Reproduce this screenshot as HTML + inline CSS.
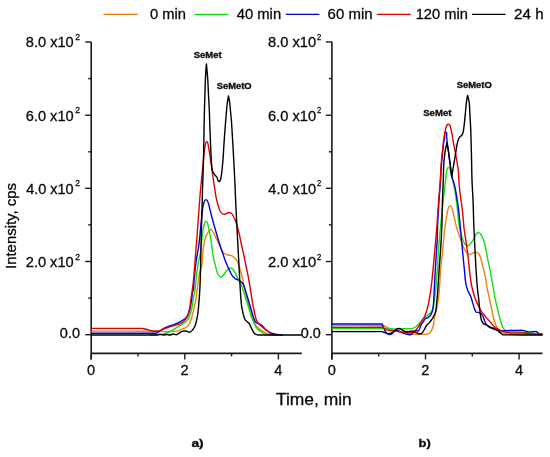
<!DOCTYPE html>
<html><head><meta charset="utf-8"><style>
html,body{margin:0;padding:0;background:#fff;overflow:hidden;}
svg{display:block;}
text{font-family:"Liberation Sans",Arial,sans-serif;fill:#0a0a0a;stroke:#0a0a0a;stroke-width:0.3px;}
</style></head><body>
<svg width="550" height="457" viewBox="0 0 550 457">

<path d="M103.3 14.45H137.7" stroke="#e87a10" stroke-width="1.3"/>
<path d="M194.5 14.45H228.5" stroke="#10dd10" stroke-width="1.3"/>
<path d="M285.8 14.45H319.4" stroke="#0000c0" stroke-width="1.3"/>
<path d="M376.8 14.45H410.8" stroke="#dd0000" stroke-width="1.3"/>
<path d="M472 14.45H505.6" stroke="#000" stroke-width="1.3"/>

<path d="M91.2 41.7 V359.6" stroke="#1a1a1a" stroke-width="1.6" fill="none"/>
<path d="M91.2 353.4 H301.8" stroke="#1a1a1a" stroke-width="1.6" fill="none"/>
<path d="M85.2 334.7 H91.2" stroke="#1a1a1a" stroke-width="1.4"/>
<path d="M88.2 298.1 H91.2" stroke="#1a1a1a" stroke-width="1.4"/>
<path d="M85.2 261.5 H91.2" stroke="#1a1a1a" stroke-width="1.4"/>
<path d="M88.2 224.9 H91.2" stroke="#1a1a1a" stroke-width="1.4"/>
<path d="M85.2 188.3 H91.2" stroke="#1a1a1a" stroke-width="1.4"/>
<path d="M88.2 151.8 H91.2" stroke="#1a1a1a" stroke-width="1.4"/>
<path d="M85.2 115.2 H91.2" stroke="#1a1a1a" stroke-width="1.4"/>
<path d="M88.2 78.6 H91.2" stroke="#1a1a1a" stroke-width="1.4"/>
<path d="M85.2 42.0 H91.2" stroke="#1a1a1a" stroke-width="1.4"/>
<path d="M91.2 353.4 V359.4" stroke="#1a1a1a" stroke-width="1.4"/>
<path d="M138.0 353.4 V356.4" stroke="#1a1a1a" stroke-width="1.4"/>
<path d="M184.8 353.4 V359.4" stroke="#1a1a1a" stroke-width="1.4"/>
<path d="M231.6 353.4 V356.4" stroke="#1a1a1a" stroke-width="1.4"/>
<path d="M278.4 353.4 V359.4" stroke="#1a1a1a" stroke-width="1.4"/>
<text x="25.87" y="47.38" textLength="47.80" lengthAdjust="spacingAndGlyphs" style="font-size:14.6px;stroke-width:0.3px;">8.0 x10</text>
<text x="75.37" y="39.98" textLength="4.76" lengthAdjust="spacingAndGlyphs" style="font-size:9px;stroke-width:0.3px;">2</text>
<text x="25.76" y="120.56" textLength="47.91" lengthAdjust="spacingAndGlyphs" style="font-size:14.6px;stroke-width:0.3px;">6.0 x10</text>
<text x="75.37" y="113.16" textLength="4.76" lengthAdjust="spacingAndGlyphs" style="font-size:9px;stroke-width:0.3px;">2</text>
<text x="26.17" y="193.74" textLength="47.50" lengthAdjust="spacingAndGlyphs" style="font-size:14.6px;stroke-width:0.3px;">4.0 x10</text>
<text x="75.37" y="186.34" textLength="4.76" lengthAdjust="spacingAndGlyphs" style="font-size:9px;stroke-width:0.3px;">2</text>
<text x="25.77" y="266.92" textLength="47.90" lengthAdjust="spacingAndGlyphs" style="font-size:14.6px;stroke-width:0.3px;">2.0 x10</text>
<text x="75.37" y="259.52" textLength="4.76" lengthAdjust="spacingAndGlyphs" style="font-size:9px;stroke-width:0.3px;">2</text>
<text x="59.83" y="337.60" textLength="20.13" lengthAdjust="spacingAndGlyphs" style="font-size:14.6px;stroke-width:0.3px;">0.0</text>
<text x="86.94" y="375.00" textLength="8.12" lengthAdjust="spacingAndGlyphs" style="font-size:14.6px;stroke-width:0.3px;">0</text>
<text x="180.54" y="375.00" textLength="8.12" lengthAdjust="spacingAndGlyphs" style="font-size:14.6px;stroke-width:0.3px;">2</text>
<text x="274.19" y="375.00" textLength="8.12" lengthAdjust="spacingAndGlyphs" style="font-size:14.6px;stroke-width:0.3px;">4</text>
<path d="M331.9 41.7 V359.6" stroke="#1a1a1a" stroke-width="1.6" fill="none"/>
<path d="M331.9 353.4 H542.5" stroke="#1a1a1a" stroke-width="1.6" fill="none"/>
<path d="M325.9 334.7 H331.9" stroke="#1a1a1a" stroke-width="1.4"/>
<path d="M328.9 298.1 H331.9" stroke="#1a1a1a" stroke-width="1.4"/>
<path d="M325.9 261.5 H331.9" stroke="#1a1a1a" stroke-width="1.4"/>
<path d="M328.9 224.9 H331.9" stroke="#1a1a1a" stroke-width="1.4"/>
<path d="M325.9 188.3 H331.9" stroke="#1a1a1a" stroke-width="1.4"/>
<path d="M328.9 151.8 H331.9" stroke="#1a1a1a" stroke-width="1.4"/>
<path d="M325.9 115.2 H331.9" stroke="#1a1a1a" stroke-width="1.4"/>
<path d="M328.9 78.6 H331.9" stroke="#1a1a1a" stroke-width="1.4"/>
<path d="M325.9 42.0 H331.9" stroke="#1a1a1a" stroke-width="1.4"/>
<path d="M331.9 353.4 V359.4" stroke="#1a1a1a" stroke-width="1.4"/>
<path d="M378.7 353.4 V356.4" stroke="#1a1a1a" stroke-width="1.4"/>
<path d="M425.5 353.4 V359.4" stroke="#1a1a1a" stroke-width="1.4"/>
<path d="M472.3 353.4 V356.4" stroke="#1a1a1a" stroke-width="1.4"/>
<path d="M519.1 353.4 V359.4" stroke="#1a1a1a" stroke-width="1.4"/>
<text x="268.06" y="47.38" textLength="48.11" lengthAdjust="spacingAndGlyphs" style="font-size:14.6px;stroke-width:0.3px;">8.0 x10</text>
<text x="317.01" y="39.98" textLength="4.27" lengthAdjust="spacingAndGlyphs" style="font-size:9px;stroke-width:0.3px;">2</text>
<text x="267.95" y="120.56" textLength="48.22" lengthAdjust="spacingAndGlyphs" style="font-size:14.6px;stroke-width:0.3px;">6.0 x10</text>
<text x="317.01" y="113.16" textLength="4.27" lengthAdjust="spacingAndGlyphs" style="font-size:9px;stroke-width:0.3px;">2</text>
<text x="268.37" y="193.74" textLength="47.80" lengthAdjust="spacingAndGlyphs" style="font-size:14.6px;stroke-width:0.3px;">4.0 x10</text>
<text x="317.01" y="186.34" textLength="4.27" lengthAdjust="spacingAndGlyphs" style="font-size:9px;stroke-width:0.3px;">2</text>
<text x="267.96" y="266.92" textLength="48.21" lengthAdjust="spacingAndGlyphs" style="font-size:14.6px;stroke-width:0.3px;">2.0 x10</text>
<text x="317.01" y="259.52" textLength="4.27" lengthAdjust="spacingAndGlyphs" style="font-size:9px;stroke-width:0.3px;">2</text>
<text x="300.64" y="337.60" textLength="20.03" lengthAdjust="spacingAndGlyphs" style="font-size:14.6px;stroke-width:0.3px;">0.0</text>
<text x="327.64" y="375.00" textLength="8.12" lengthAdjust="spacingAndGlyphs" style="font-size:14.6px;stroke-width:0.3px;">0</text>
<text x="421.24" y="375.00" textLength="8.12" lengthAdjust="spacingAndGlyphs" style="font-size:14.6px;stroke-width:0.3px;">2</text>
<text x="514.89" y="375.00" textLength="8.12" lengthAdjust="spacingAndGlyphs" style="font-size:14.6px;stroke-width:0.3px;">4</text>
<text x="149.92" y="19.40" textLength="36.03" lengthAdjust="spacingAndGlyphs" style="font-size:14.8px;stroke-width:0.3px;">0 min</text>
<text x="236.66" y="19.40" textLength="44.50" lengthAdjust="spacingAndGlyphs" style="font-size:14.8px;stroke-width:0.3px;">40 min</text>
<text x="327.64" y="19.40" textLength="44.93" lengthAdjust="spacingAndGlyphs" style="font-size:14.8px;stroke-width:0.3px;">60 min</text>
<text x="415.68" y="19.40" textLength="52.27" lengthAdjust="spacingAndGlyphs" style="font-size:14.8px;stroke-width:0.3px;">120 min</text>
<text x="514.04" y="19.40" textLength="29.55" lengthAdjust="spacingAndGlyphs" style="font-size:14.8px;stroke-width:0.3px;">24 h</text>
<text x="275.91" y="404.60" textLength="75.81" lengthAdjust="spacingAndGlyphs" style="font-size:17px;stroke-width:0.3px;">Time, min</text>
<text x="191.46" y="447.30" textLength="12.24" lengthAdjust="spacingAndGlyphs" style="font-size:11px;font-weight:bold;font-family:"DejaVu Sans",sans-serif;stroke-width:0.55px;">a)</text>
<text x="418.55" y="446.90" textLength="12.22" lengthAdjust="spacingAndGlyphs" style="font-size:11px;font-weight:bold;font-family:"DejaVu Sans",sans-serif;stroke-width:0.55px;">b)</text>
<text x="193.68" y="58.10" textLength="27.95" lengthAdjust="spacingAndGlyphs" style="font-size:8.6px;font-weight:bold;font-family:"DejaVu Sans",sans-serif;stroke-width:0.6px;">SeMet</text>
<text x="216.78" y="88.80" textLength="34.87" lengthAdjust="spacingAndGlyphs" style="font-size:8.6px;font-weight:bold;font-family:"DejaVu Sans",sans-serif;stroke-width:0.6px;">SeMetO</text>
<text x="423.18" y="115.90" textLength="28.25" lengthAdjust="spacingAndGlyphs" style="font-size:8.6px;font-weight:bold;font-family:"DejaVu Sans",sans-serif;stroke-width:0.6px;">SeMet</text>
<text x="456.68" y="87.80" textLength="35.07" lengthAdjust="spacingAndGlyphs" style="font-size:8.6px;font-weight:bold;font-family:"DejaVu Sans",sans-serif;stroke-width:0.6px;">SeMetO</text>
<g transform="rotate(-90)"><text x="-268.96" y="16.40" textLength="85.89" lengthAdjust="spacingAndGlyphs" style="font-size:14.8px;stroke-width:0.3px;">Intensity, cps</text></g>
<path d="M91.20 331.10C110.53 331.13 129.87 331.17 149.20 331.20C150.63 331.13 152.07 331.03 153.50 331.00C155.33 330.96 157.17 330.90 159.00 331.00C160.84 331.10 162.66 331.51 164.50 331.60C166.66 331.71 168.84 331.69 171.00 331.60C172.94 331.52 174.89 331.44 176.80 331.10C177.91 330.90 178.95 330.40 180.00 330.00C180.68 329.74 181.32 329.38 182.00 329.10C183.26 328.58 184.67 328.36 185.80 327.60C187.02 326.79 188.12 325.73 188.90 324.50C189.95 322.85 190.56 320.95 191.20 319.10C191.97 316.87 192.53 314.58 193.10 312.30C193.67 310.02 194.10 307.70 194.60 305.40C195.00 303.60 195.50 301.82 195.80 300.00C196.34 296.68 196.65 293.33 197.10 290.00C197.55 286.66 198.03 283.33 198.50 280.00C198.83 277.67 198.96 275.29 199.50 273.00C200.00 270.88 201.17 268.94 201.60 266.80C202.18 263.91 202.24 260.94 202.50 258.00C202.74 255.34 202.83 252.66 203.10 250.00C203.27 248.33 203.46 246.65 203.80 245.00C204.33 242.38 204.83 239.73 205.70 237.20C206.34 235.34 207.24 233.56 208.30 231.90C208.89 230.97 209.49 229.50 210.60 229.50C211.71 229.50 212.30 230.97 212.90 231.90C213.98 233.56 214.71 235.43 215.60 237.20C216.47 238.93 217.37 240.65 218.20 242.40C219.00 244.08 219.70 245.81 220.50 247.50C221.14 248.85 221.70 250.24 222.50 251.50C223.04 252.36 223.67 253.22 224.50 253.80C225.25 254.32 226.22 254.46 227.10 254.70C228.05 254.96 229.04 255.06 230.00 255.30C230.75 255.49 231.51 255.65 232.20 256.00C232.97 256.39 233.64 256.95 234.30 257.50C234.91 258.02 235.50 258.57 236.00 259.20C236.51 259.85 236.94 260.56 237.30 261.30C237.77 262.27 238.14 263.28 238.50 264.30C239.04 265.85 239.54 267.42 240.00 269.00C240.41 270.39 240.73 271.80 241.10 273.20C241.57 274.97 242.10 276.72 242.50 278.50C243.07 281.05 243.43 283.65 244.00 286.20C244.77 289.65 245.65 293.07 246.50 296.50C247.38 300.07 248.21 303.66 249.20 307.20C249.98 309.99 250.88 312.75 251.80 315.50C252.65 318.02 253.36 320.60 254.50 323.00C255.11 324.30 256.07 325.41 257.00 326.50C257.81 327.45 258.75 328.29 259.70 329.10C260.59 329.86 261.53 330.56 262.50 331.20C263.30 331.73 264.15 332.16 265.00 332.60C265.82 333.03 266.65 333.43 267.50 333.80C268.39 334.19 269.24 334.72 270.20 334.90C271.45 335.13 272.73 334.97 274.00 335.00" stroke="#f08010" stroke-width="1.4" fill="none" stroke-linejoin="round"/>
<path d="M150.00 334.95C152.33 334.95 154.67 334.98 157.00 334.95C158.03 334.93 159.08 334.95 160.10 334.80C161.32 334.63 162.53 334.37 163.70 334.00C165.67 333.37 167.62 332.67 169.50 331.80C170.80 331.20 171.96 330.33 173.20 329.60C174.40 328.89 175.60 328.21 176.80 327.50C178.04 326.77 179.28 326.05 180.50 325.30C181.18 324.88 181.84 324.44 182.50 324.00C183.37 323.41 184.31 322.89 185.10 322.20C186.18 321.25 187.33 320.32 188.10 319.10C189.13 317.47 189.78 315.62 190.40 313.80C191.08 311.81 191.60 309.76 192.00 307.70C192.50 305.16 192.67 302.56 193.10 300.00C193.67 296.65 194.54 293.36 195.00 290.00C195.68 285.02 195.88 279.99 196.50 275.00C197.04 270.65 197.74 266.32 198.50 262.00C198.91 259.65 199.49 257.33 200.00 255.00C200.36 253.33 200.90 251.69 201.10 250.00C201.50 246.62 201.47 243.19 201.80 239.80C202.14 236.29 202.52 232.78 203.10 229.30C203.39 227.54 203.77 225.77 204.40 224.10C204.78 223.08 205.01 221.30 206.10 221.30C207.17 221.30 207.33 223.09 207.70 224.10C208.31 225.78 208.63 227.55 209.00 229.30C209.73 232.79 210.44 236.28 211.00 239.80C211.54 243.18 211.83 246.60 212.30 250.00C212.67 252.67 213.00 255.35 213.50 258.00C213.90 260.12 214.48 262.21 215.00 264.30C215.48 266.21 215.91 268.13 216.50 270.00C216.98 271.53 217.38 273.13 218.20 274.50C218.81 275.51 219.60 276.57 220.70 277.00C221.31 277.24 221.98 276.60 222.50 276.20C223.08 275.75 223.48 275.10 223.90 274.50C224.58 273.53 225.09 272.45 225.80 271.50C226.36 270.74 227.00 270.04 227.70 269.40C228.18 268.96 228.70 268.54 229.30 268.30C229.80 268.10 230.37 268.01 230.90 268.10C231.41 268.19 231.88 268.49 232.30 268.80C232.76 269.13 233.18 269.53 233.50 270.00C234.15 270.95 234.65 271.99 235.20 273.00C235.65 273.82 236.11 274.65 236.50 275.50C237.21 277.05 237.70 278.70 238.50 280.20C239.04 281.21 240.02 281.96 240.50 283.00C241.53 285.25 242.21 287.65 243.00 290.00C243.95 292.82 244.78 295.67 245.70 298.50C246.62 301.34 247.64 304.14 248.50 307.00C249.40 309.98 250.02 313.05 251.00 316.00C251.69 318.06 252.59 320.03 253.50 322.00C254.33 323.80 255.06 325.68 256.20 327.30C257.15 328.65 258.46 329.71 259.70 330.80C260.56 331.55 261.54 332.17 262.50 332.80C263.31 333.34 264.08 333.98 265.00 334.30C266.12 334.69 267.32 334.78 268.50 334.90C269.66 335.02 270.83 334.97 272.00 335.00" stroke="#10e010" stroke-width="1.4" fill="none" stroke-linejoin="round"/>
<path d="M91.20 333.20C112.90 333.20 134.60 333.20 156.30 333.20C157.07 332.73 157.85 332.29 158.60 331.80C159.85 330.99 161.02 330.06 162.30 329.30C163.46 328.62 164.68 328.06 165.90 327.50C167.08 326.96 168.28 326.44 169.50 326.00C170.71 325.57 171.98 325.32 173.20 324.90C174.42 324.48 175.63 324.03 176.80 323.50C178.06 322.93 179.29 322.28 180.50 321.60C181.36 321.11 182.15 320.51 183.00 320.00C183.69 319.58 184.53 319.37 185.10 318.80C186.13 317.77 187.03 316.59 187.70 315.30C188.57 313.63 189.17 311.81 189.70 310.00C190.21 308.24 190.46 306.40 190.80 304.60C191.09 303.07 191.39 301.54 191.60 300.00C191.96 297.34 192.02 294.64 192.50 292.00C192.63 291.28 193.10 290.67 193.40 290.00C193.80 285.00 194.12 279.99 194.60 275.00C195.08 269.99 195.60 264.98 196.30 260.00C196.77 256.65 197.55 253.34 198.10 250.00C198.52 247.47 198.92 244.94 199.20 242.40C199.92 235.88 200.44 229.33 201.10 222.80C201.54 218.43 201.90 214.05 202.50 209.70C202.80 207.48 203.07 205.22 203.80 203.10C204.25 201.80 204.62 199.60 206.00 199.60C207.40 199.60 207.81 201.79 208.30 203.10C209.26 205.64 209.63 208.37 210.30 211.00C210.96 213.60 211.60 216.21 212.30 218.80C213.13 221.88 214.03 224.93 214.90 228.00C215.77 231.07 216.59 234.15 217.50 237.20C218.55 240.71 219.66 244.21 220.80 247.70C221.49 249.81 222.28 251.90 223.00 254.00C223.74 256.16 224.42 258.35 225.20 260.50C225.82 262.19 226.50 263.85 227.20 265.50C227.76 266.82 228.37 268.11 229.00 269.40C230.04 271.51 230.90 273.73 232.20 275.70C232.93 276.80 233.94 277.72 235.00 278.50C235.73 279.04 236.68 279.21 237.50 279.60C238.28 279.97 239.08 280.32 239.80 280.80C240.65 281.36 241.56 281.91 242.20 282.70C242.99 283.67 243.54 284.84 244.00 286.00C244.71 287.78 245.13 289.67 245.70 291.50C246.63 294.50 247.59 297.49 248.50 300.50C249.36 303.33 250.17 306.17 251.00 309.00C251.73 311.50 252.35 314.04 253.20 316.50C253.82 318.31 254.31 320.23 255.40 321.80C255.98 322.64 257.10 322.92 258.00 323.40C258.97 323.92 260.08 324.20 261.00 324.80C261.93 325.41 262.74 326.19 263.50 327.00C264.09 327.63 264.39 328.49 265.00 329.10C265.74 329.84 266.63 330.42 267.50 331.00C268.37 331.58 269.23 332.20 270.20 332.60C271.92 333.31 273.70 333.83 275.50 334.30C276.65 334.60 277.82 334.79 279.00 334.90C280.33 335.02 281.67 334.97 283.00 335.00" stroke="#0000dd" stroke-width="1.4" fill="none" stroke-linejoin="round"/>
<path d="M91.20 328.40C108.33 328.40 125.47 328.40 142.60 328.40C143.70 328.67 144.80 328.92 145.90 329.20C147.00 329.48 148.10 329.79 149.20 330.10C150.47 330.46 151.69 331.01 153.00 331.20C154.25 331.38 155.53 331.26 156.80 331.20C157.54 331.16 158.29 331.11 159.00 330.90C160.14 330.57 161.20 330.03 162.30 329.60C163.50 329.13 164.69 328.65 165.90 328.20C167.09 327.75 168.28 327.28 169.50 326.90C170.72 326.52 171.97 326.24 173.20 325.90C174.40 325.57 175.61 325.27 176.80 324.90C178.05 324.51 179.34 324.20 180.50 323.60C181.43 323.12 182.18 322.36 183.00 321.70C183.72 321.12 184.50 320.60 185.10 319.90C185.98 318.86 186.84 317.75 187.40 316.50C188.12 314.91 188.48 313.19 188.90 311.50C189.35 309.69 189.70 307.84 190.00 306.00C190.33 304.01 190.51 302.00 190.80 300.00C191.28 296.66 191.85 293.34 192.30 290.00C192.75 286.67 193.17 283.34 193.50 280.00C194.00 275.01 194.40 270.00 194.80 265.00C195.20 260.00 195.50 255.00 195.90 250.00C196.10 247.46 196.40 244.94 196.60 242.40C197.27 233.67 197.85 224.93 198.50 216.20C199.15 207.47 199.74 198.73 200.50 190.00C201.08 183.33 201.85 176.67 202.50 170.00C203.08 164.00 203.52 157.99 204.20 152.00C204.49 149.48 204.77 146.95 205.40 144.50C205.65 143.52 205.80 141.62 206.80 141.80C207.95 142.00 207.94 143.86 208.20 145.00C208.95 148.29 209.28 151.66 209.80 155.00C210.42 159.00 211.02 163.00 211.60 167.00C212.22 171.33 212.78 175.67 213.40 180.00C213.88 183.34 214.38 186.67 214.90 190.00C215.31 192.64 215.65 195.29 216.20 197.90C216.75 200.53 217.43 203.13 218.20 205.70C218.74 207.50 219.19 209.36 220.10 211.00C220.75 212.18 221.64 213.32 222.80 214.00C223.49 214.41 224.42 214.19 225.20 214.00C226.46 213.68 227.50 212.60 228.80 212.50C229.76 212.42 230.77 212.88 231.50 213.50C232.42 214.28 232.93 215.44 233.50 216.50C234.27 217.95 234.94 219.46 235.50 221.00C236.21 222.93 236.74 224.92 237.30 226.90C238.07 229.59 238.86 232.28 239.50 235.00C240.20 237.98 240.66 241.01 241.30 244.00C242.02 247.38 242.88 250.72 243.60 254.10C244.38 257.72 245.06 261.37 245.80 265.00C246.66 269.17 247.61 273.32 248.40 277.50C249.18 281.65 249.82 285.83 250.50 290.00C251.25 294.56 251.89 299.15 252.70 303.70C253.22 306.65 253.85 309.58 254.50 312.50C255.02 314.84 255.43 317.23 256.20 319.50C256.60 320.69 257.30 321.76 258.00 322.80C258.47 323.51 259.10 324.10 259.70 324.70C260.60 325.60 261.52 326.49 262.50 327.30C263.29 327.96 264.18 328.48 265.00 329.10C265.95 329.82 266.88 330.55 267.80 331.30C268.61 331.95 269.31 332.76 270.20 333.30C271.30 333.97 272.45 334.63 273.70 334.90C275.10 335.21 276.57 334.97 278.00 335.00" stroke="#e00000" stroke-width="1.4" fill="none" stroke-linejoin="round"/>
<path d="M91.20 335.00C113.13 334.98 135.07 334.97 157.00 334.95C158.03 334.70 159.04 334.19 160.10 334.20C161.23 334.21 162.27 334.95 163.40 335.00C164.48 335.05 165.52 334.50 166.60 334.50C167.71 334.50 168.79 335.08 169.90 335.00C171.05 334.91 172.05 334.05 173.20 334.00C174.23 333.95 175.18 334.85 176.20 334.70C177.32 334.53 178.21 333.66 179.20 333.10C180.15 332.56 180.96 331.73 182.00 331.40C183.21 331.01 184.53 330.87 185.80 331.00C187.15 331.14 188.34 332.29 189.70 332.20C190.63 332.14 191.39 331.31 192.00 330.60C193.19 329.21 194.28 327.68 195.00 326.00C195.94 323.81 196.40 321.43 196.90 319.10C197.44 316.59 197.78 314.05 198.10 311.50C198.42 308.94 198.58 306.37 198.80 303.80C199.02 301.20 199.22 298.60 199.40 296.00C199.59 293.33 199.77 290.67 199.90 288.00C200.11 283.67 200.29 279.34 200.40 275.00C200.62 266.67 200.71 258.33 200.90 250.00C201.05 243.33 201.22 236.67 201.40 230.00C201.58 223.33 201.82 216.67 202.00 210.00C202.18 203.33 202.30 196.67 202.50 190.00C202.80 180.00 203.25 170.00 203.50 160.00C203.75 150.00 203.80 140.00 204.00 130.00C204.17 121.67 204.37 113.33 204.60 105.00C204.81 97.33 205.02 89.66 205.30 82.00C205.45 78.00 205.66 74.00 205.90 70.00C206.02 68.00 206.23 66.00 206.40 64.00C206.60 66.00 206.82 68.00 207.00 70.00C207.29 73.33 207.60 76.66 207.80 80.00C208.10 85.00 208.25 90.00 208.50 95.00C208.75 100.00 209.08 105.00 209.30 110.00C209.52 115.00 209.61 120.00 209.80 125.00C210.05 131.67 210.31 138.33 210.60 145.00C210.81 150.00 210.95 155.01 211.30 160.00C211.55 163.68 211.59 167.41 212.40 171.00C212.71 172.37 213.77 173.47 214.60 174.60C215.24 175.48 216.24 176.07 216.80 177.00C217.65 178.40 217.43 180.60 218.80 181.50C219.55 181.99 220.33 180.36 220.60 179.50C221.36 177.09 221.47 174.51 221.80 172.00C222.10 169.67 222.28 167.33 222.50 165.00C222.75 162.33 223.01 159.67 223.20 157.00C223.41 154.00 223.51 151.00 223.70 148.00C223.98 143.67 224.28 139.33 224.60 135.00C224.92 130.67 225.25 126.33 225.60 122.00C225.92 118.00 226.24 114.00 226.60 110.00C226.84 107.33 227.04 104.66 227.40 102.00C227.67 99.99 228.13 98.00 228.50 96.00C228.87 98.00 229.33 99.99 229.60 102.00C229.96 104.66 230.15 107.33 230.40 110.00C230.78 114.00 231.20 117.99 231.50 122.00C231.83 126.33 232.04 130.67 232.30 135.00C232.60 140.00 232.92 145.00 233.20 150.00C233.48 155.00 233.74 160.00 234.00 165.00C234.34 171.67 234.70 178.33 235.00 185.00C235.23 190.00 235.37 195.00 235.60 200.00C235.90 206.67 236.27 213.33 236.60 220.00C236.93 226.67 237.25 233.33 237.60 240.00C237.95 246.67 238.34 253.33 238.70 260.00C239.01 265.83 239.28 271.67 239.60 277.50C239.88 282.67 240.14 287.84 240.50 293.00C240.80 297.34 241.06 301.68 241.60 306.00C241.90 308.36 242.42 310.69 243.00 313.00C243.55 315.20 243.99 317.47 245.00 319.50C245.53 320.55 246.65 321.19 247.50 322.00C248.15 322.62 249.02 323.04 249.50 323.80C250.31 325.09 250.61 326.64 251.30 328.00C252.21 329.78 252.98 331.70 254.30 333.20C255.05 334.05 256.22 334.46 257.30 334.80C258.16 335.07 259.10 334.93 260.00 335.00C273.93 335.00 287.87 335.00 301.80 335.00" stroke="#000000" stroke-width="1.4" fill="none" stroke-linejoin="round"/>
<path d="M331.90 325.60C349.10 325.57 366.30 325.53 383.50 325.50C384.40 325.93 385.30 326.36 386.20 326.80C387.40 327.39 388.57 328.06 389.80 328.60C391.01 329.13 392.27 329.53 393.50 330.00C394.70 330.46 395.87 331.01 397.10 331.40C398.28 331.78 399.49 332.03 400.70 332.30C402.23 332.63 403.76 332.92 405.30 333.20C407.10 333.52 408.88 333.93 410.70 334.10C412.53 334.27 414.37 334.17 416.20 334.20C418.00 334.23 419.80 334.30 421.60 334.30C423.10 334.30 424.62 334.47 426.10 334.20C427.43 333.96 428.99 333.79 429.90 332.80C431.44 331.12 432.34 328.88 433.00 326.70C433.89 323.72 433.87 320.54 434.50 317.50C435.14 314.40 436.22 311.41 436.80 308.30C437.75 303.23 438.59 298.13 439.10 293.00C439.86 285.35 439.95 277.66 440.60 270.00C441.25 262.32 442.23 254.67 443.00 247.00C443.57 241.34 443.95 235.65 444.60 230.00C445.05 226.08 445.67 222.19 446.30 218.30C446.77 215.39 447.04 212.42 447.90 209.60C448.32 208.23 448.67 205.90 450.10 205.90C451.53 205.90 451.82 208.25 452.30 209.60C453.30 212.42 453.80 215.39 454.50 218.30C455.20 221.19 455.71 224.13 456.50 227.00C457.34 230.04 458.38 233.02 459.40 236.00C460.28 238.55 461.22 241.08 462.20 243.60C463.06 245.82 463.71 248.14 464.90 250.20C465.74 251.65 466.80 253.07 468.20 254.00C468.95 254.50 470.02 254.40 470.90 254.20C471.83 253.99 472.51 253.16 473.40 252.80C474.26 252.45 475.18 251.97 476.10 252.10C477.02 252.23 477.87 252.82 478.50 253.50C479.28 254.34 479.83 255.41 480.20 256.50C481.07 259.07 481.53 261.77 482.20 264.40C483.23 268.47 484.45 272.49 485.30 276.60C486.08 280.37 486.40 284.22 487.10 288.00C487.63 290.89 488.37 293.73 489.00 296.60C489.74 300.00 490.47 303.40 491.20 306.80C491.93 310.20 492.57 313.62 493.40 317.00C494.00 319.46 494.58 321.94 495.50 324.30C496.29 326.33 497.10 328.43 498.50 330.10C499.61 331.42 501.20 332.35 502.80 333.00C504.63 333.74 506.67 333.80 508.60 334.20C519.90 334.30 531.20 334.40 542.50 334.50" stroke="#f08010" stroke-width="1.4" fill="none" stroke-linejoin="round"/>
<path d="M331.90 328.60C348.63 328.57 365.37 328.53 382.10 328.50C383.47 328.40 384.83 328.12 386.20 328.20C387.72 328.29 389.18 328.88 390.70 329.00C392.53 329.15 394.37 329.03 396.20 329.00C398.00 328.97 399.80 328.83 401.60 328.80C403.43 328.77 405.27 328.87 407.10 328.80C408.90 328.73 410.75 328.84 412.50 328.40C413.84 328.06 415.10 327.35 416.20 326.50C417.47 325.52 418.43 324.19 419.50 323.00C420.53 321.86 421.46 320.63 422.50 319.50C423.46 318.46 424.40 317.39 425.50 316.50C426.88 315.38 428.70 314.81 429.90 313.50C431.26 312.01 432.49 310.25 433.00 308.30C434.31 303.31 434.72 298.13 435.30 293.00C436.16 285.35 436.73 277.67 437.30 270.00C437.80 263.34 438.03 256.66 438.50 250.00C438.83 245.33 439.28 240.67 439.70 236.00C440.12 231.33 440.53 226.66 441.00 222.00C441.47 217.33 442.02 212.67 442.50 208.00C442.95 203.67 443.32 199.33 443.80 195.00C444.25 190.99 444.82 187.00 445.30 183.00C445.68 179.84 445.75 176.62 446.40 173.50C446.82 171.46 446.41 167.69 448.50 167.60C450.57 167.51 450.35 171.33 451.00 173.30C451.82 175.78 452.32 178.35 452.90 180.90C453.65 184.22 454.45 187.54 455.00 190.90C455.89 196.38 456.54 201.89 457.20 207.40C457.78 212.26 458.10 217.14 458.70 222.00C459.03 224.68 459.45 227.35 460.00 230.00C460.42 232.03 460.96 234.03 461.60 236.00C462.39 238.44 463.05 240.96 464.30 243.20C464.92 244.31 465.86 245.51 467.10 245.80C468.07 246.03 469.06 245.17 469.80 244.50C470.94 243.46 471.75 242.09 472.60 240.80C473.39 239.59 474.00 238.26 474.70 237.00C475.30 235.93 475.71 234.74 476.50 233.80C476.98 233.23 477.68 232.38 478.40 232.60C479.71 232.99 480.81 234.12 481.50 235.30C482.89 237.68 483.79 240.34 484.50 243.00C485.83 248.03 486.57 253.20 487.60 258.30C488.63 263.40 489.72 268.49 490.70 273.60C491.62 278.39 492.44 283.20 493.30 288.00C493.81 290.86 494.24 293.74 494.80 296.60C495.47 300.01 496.21 303.41 497.00 306.80C497.91 310.71 498.80 314.64 499.90 318.50C500.74 321.44 501.57 324.40 502.80 327.20C503.29 328.31 504.03 329.38 505.00 330.10C506.03 330.87 507.33 331.30 508.60 331.50C511.01 331.88 513.47 331.67 515.90 331.80C518.34 331.93 520.77 332.10 523.20 332.30C525.64 332.50 528.07 332.76 530.50 333.00C534.50 333.39 538.50 333.80 542.50 334.20" stroke="#10e010" stroke-width="1.4" fill="none" stroke-linejoin="round"/>
<path d="M331.90 324.00C348.63 324.00 365.37 324.00 382.10 324.00C382.87 325.83 383.53 327.71 384.40 329.50C385.03 330.79 385.59 332.19 386.60 333.20C387.33 333.93 388.37 334.43 389.40 334.50C390.35 334.57 391.29 334.10 392.10 333.60C393.00 333.04 393.50 331.96 394.40 331.40C395.21 330.90 396.15 330.50 397.10 330.50C398.05 330.50 398.94 331.01 399.80 331.40C400.91 331.91 401.87 332.72 403.00 333.20C404.02 333.63 405.13 333.83 406.20 334.10C407.26 334.36 408.31 334.80 409.40 334.80C410.17 334.80 410.99 334.56 411.60 334.10C412.54 333.39 412.97 332.13 413.90 331.40C414.55 330.89 415.38 330.61 416.20 330.50C416.97 330.40 417.96 331.35 418.50 330.80C419.75 329.52 419.86 327.48 420.70 325.90C421.53 324.34 422.56 322.89 423.50 321.40C424.09 320.46 424.45 319.32 425.30 318.60C426.03 317.98 427.19 318.11 428.00 317.60C429.02 316.96 430.13 316.26 430.70 315.20C431.85 313.06 432.69 310.71 433.00 308.30C433.97 300.68 434.04 292.97 434.50 285.30C434.81 280.20 435.01 275.10 435.30 270.00C435.64 264.00 436.02 258.00 436.40 252.00C436.65 248.00 437.02 244.00 437.20 240.00C437.42 235.34 437.39 230.66 437.60 226.00C437.96 218.00 438.38 209.99 438.90 202.00C439.38 194.66 440.10 187.34 440.60 180.00C440.96 174.67 441.07 169.32 441.50 164.00C442.01 157.66 442.67 151.32 443.40 145.00C443.71 142.32 444.10 139.65 444.60 137.00C444.90 135.41 444.18 132.30 445.80 132.30C447.39 132.30 446.38 135.43 446.60 137.00C446.88 138.99 447.04 141.00 447.30 143.00C447.64 145.67 448.04 148.33 448.40 151.00C448.81 154.00 449.20 157.00 449.60 160.00C450.00 163.00 450.39 166.00 450.80 169.00C451.16 171.67 451.30 174.37 451.90 177.00C452.38 179.10 453.46 181.02 454.00 183.10C454.86 186.40 455.51 189.75 456.10 193.10C456.94 197.85 457.69 202.62 458.30 207.40C458.99 212.85 459.47 218.33 460.00 223.80C460.57 229.66 461.05 235.54 461.60 241.40C462.11 246.87 462.66 252.33 463.20 257.80C463.60 261.87 463.98 265.94 464.40 270.00C464.88 274.67 465.12 279.37 465.90 284.00C466.29 286.33 467.04 288.60 467.90 290.80C468.68 292.81 470.02 294.59 470.80 296.60C471.72 298.97 472.20 301.49 473.00 303.90C473.90 306.59 474.20 309.63 475.90 311.90C476.63 312.88 478.43 312.01 479.50 312.60C480.72 313.27 481.80 314.30 482.50 315.50C483.81 317.77 484.18 320.48 485.40 322.80C486.13 324.19 487.08 325.52 488.30 326.50C489.54 327.50 491.13 327.99 492.60 328.60C494.03 329.19 495.49 329.77 497.00 330.10C498.90 330.51 500.85 330.75 502.80 330.80C504.74 330.85 506.66 330.46 508.60 330.40C511.03 330.33 513.47 330.40 515.90 330.40C518.33 330.40 520.78 330.11 523.20 330.40C524.70 330.58 526.01 331.56 527.50 331.80C528.95 332.03 530.43 331.85 531.90 331.80C533.37 331.75 534.88 331.13 536.30 331.50C537.47 331.81 538.09 333.22 539.20 333.70C540.22 334.14 541.40 334.03 542.50 334.20" stroke="#0000dd" stroke-width="1.4" fill="none" stroke-linejoin="round"/>
<path d="M331.90 327.40C348.63 327.37 365.37 327.33 382.10 327.30C383.17 327.90 384.18 328.61 385.30 329.10C386.46 329.61 387.66 330.04 388.90 330.30C390.08 330.55 391.30 330.50 392.50 330.60C393.73 330.70 394.98 330.70 396.20 330.90C397.42 331.10 398.59 331.57 399.80 331.80C401.02 332.03 402.26 332.16 403.50 332.30C405.00 332.46 406.50 332.64 408.00 332.70C409.20 332.74 410.42 332.84 411.60 332.60C412.60 332.40 413.62 332.05 414.40 331.40C415.80 330.24 416.94 328.78 418.00 327.30C419.35 325.43 420.40 323.37 421.60 321.40C422.53 319.87 423.59 318.40 424.40 316.80C425.13 315.36 425.68 313.83 426.20 312.30C426.71 310.79 427.12 309.25 427.50 307.70C428.08 305.35 428.68 302.99 429.10 300.60C429.98 295.52 430.75 290.42 431.40 285.30C432.05 280.21 432.51 275.10 433.00 270.00C433.71 262.67 434.35 255.33 435.00 248.00C435.68 240.33 436.40 232.67 437.00 225.00C437.60 217.30 438.04 209.60 438.60 201.90C439.14 194.60 439.80 187.30 440.30 180.00C440.67 174.67 440.77 169.32 441.20 164.00C441.73 157.42 442.40 150.85 443.20 144.30C443.73 139.92 444.13 135.49 445.20 131.20C445.81 128.74 445.73 124.79 448.20 124.20C450.25 123.71 450.55 127.77 451.10 129.80C452.40 134.54 452.79 139.47 453.70 144.30C454.53 148.71 455.54 153.08 456.30 157.50C457.07 161.98 457.82 166.48 458.30 171.00C458.79 175.65 458.80 180.34 459.20 185.00C459.53 188.81 460.02 192.61 460.50 196.40C461.19 201.87 462.09 207.32 462.70 212.80C463.26 217.85 463.42 222.95 464.00 228.00C464.52 232.49 465.37 236.93 466.00 241.40C466.77 246.86 467.54 252.32 468.20 257.80C468.77 262.53 469.13 267.27 469.70 272.00C470.23 276.34 470.68 280.70 471.50 285.00C472.21 288.72 473.16 292.39 474.30 296.00C475.13 298.64 476.28 301.17 477.40 303.70C478.35 305.84 479.28 308.00 480.50 310.00C481.69 311.95 483.16 313.72 484.60 315.50C486.23 317.52 488.00 319.43 489.70 321.40C491.17 323.10 492.44 324.99 494.10 326.50C495.40 327.68 496.96 328.55 498.50 329.40C499.87 330.16 501.31 330.81 502.80 331.30C504.69 331.92 506.63 332.44 508.60 332.70C511.02 333.01 513.47 332.95 515.90 333.00C518.33 333.05 520.77 332.88 523.20 333.00C525.64 333.12 528.06 333.51 530.50 333.70C534.50 334.01 538.50 334.23 542.50 334.50" stroke="#e00000" stroke-width="1.4" fill="none" stroke-linejoin="round"/>
<path d="M331.90 331.60C348.63 331.60 365.37 331.60 382.10 331.60C383.00 331.97 383.88 332.39 384.80 332.70C385.85 333.06 386.90 333.51 388.00 333.60C389.07 333.68 390.19 333.58 391.20 333.20C392.21 332.82 393.04 332.05 393.90 331.40C394.84 330.69 395.58 329.69 396.60 329.10C397.29 328.70 398.11 328.44 398.90 328.50C399.86 328.58 400.75 329.05 401.60 329.50C402.60 330.03 403.36 330.96 404.40 331.40C405.24 331.75 406.19 331.80 407.10 331.80C408.01 331.80 408.90 331.50 409.80 331.40C410.70 331.30 411.61 331.07 412.50 331.20C413.48 331.34 414.38 331.83 415.30 332.20C416.21 332.57 417.06 333.12 418.00 333.40C418.87 333.66 419.81 333.98 420.70 333.80C421.43 333.65 422.03 333.07 422.50 332.50C423.36 331.44 423.92 330.18 424.60 329.00C425.26 327.85 425.74 326.59 426.50 325.50C427.02 324.77 427.80 324.27 428.40 323.60C429.30 322.60 430.19 321.58 431.00 320.50C431.72 319.54 432.40 318.54 433.00 317.50C433.74 316.21 434.46 314.89 435.00 313.50C435.46 312.31 435.67 311.03 436.00 309.80C436.53 304.20 437.16 298.61 437.60 293.00C438.20 285.34 438.57 277.66 439.10 270.00C439.63 262.30 440.32 254.61 440.80 246.90C441.25 239.60 441.64 232.30 441.90 225.00C442.17 217.30 442.16 209.60 442.40 201.90C442.63 194.60 443.03 187.30 443.30 180.00C443.50 174.67 443.45 169.32 443.80 164.00C444.08 159.65 444.59 155.32 445.20 151.00C445.59 148.24 446.27 145.53 446.80 142.80C447.33 145.53 447.98 148.25 448.40 151.00C449.11 155.65 449.59 160.33 450.20 165.00C450.72 169.00 451.27 173.00 451.80 177.00C452.37 173.33 452.91 169.66 453.50 166.00C454.17 161.83 454.89 157.66 455.60 153.50C456.26 149.66 456.67 145.78 457.60 142.00C458.01 140.32 458.68 138.67 459.60 137.20C460.18 136.28 461.40 135.91 462.00 135.00C462.67 133.99 463.07 132.79 463.30 131.60C463.87 128.70 464.07 125.74 464.40 122.80C464.81 119.17 465.13 115.53 465.50 111.90C465.87 108.23 466.13 104.56 466.60 100.90C466.83 99.08 467.27 97.30 467.60 95.50C467.97 96.93 468.37 98.36 468.70 99.80C468.94 100.86 469.20 101.92 469.30 103.00C469.57 105.96 469.64 108.93 469.80 111.90C470.00 115.53 470.22 119.17 470.40 122.80C470.59 126.53 470.78 130.26 470.90 134.00C471.15 141.63 471.32 149.27 471.50 156.90C471.68 164.60 471.73 172.30 472.00 180.00C472.26 187.30 472.81 194.60 473.10 201.90C473.41 209.60 473.50 217.30 473.80 225.00C474.13 233.34 474.57 241.67 475.00 250.00C475.37 257.33 475.74 264.67 476.20 272.00C476.54 277.34 476.91 282.67 477.40 288.00C477.71 291.34 478.23 294.66 478.60 298.00C478.93 301.00 479.15 304.01 479.50 307.00C479.95 310.84 480.15 314.73 481.00 318.50C481.40 320.28 481.99 322.14 483.20 323.50C484.07 324.47 485.64 324.41 486.80 325.00C488.08 325.65 489.21 326.57 490.50 327.20C491.65 327.77 492.92 328.08 494.10 328.60C495.09 329.04 496.10 329.49 497.00 330.10C498.28 330.96 499.41 332.02 500.60 333.00C501.35 333.62 502.07 334.27 502.80 334.90C516.03 334.93 529.27 334.97 542.50 335.00" stroke="#000000" stroke-width="1.4" fill="none" stroke-linejoin="round"/>
</svg>
</body></html>
